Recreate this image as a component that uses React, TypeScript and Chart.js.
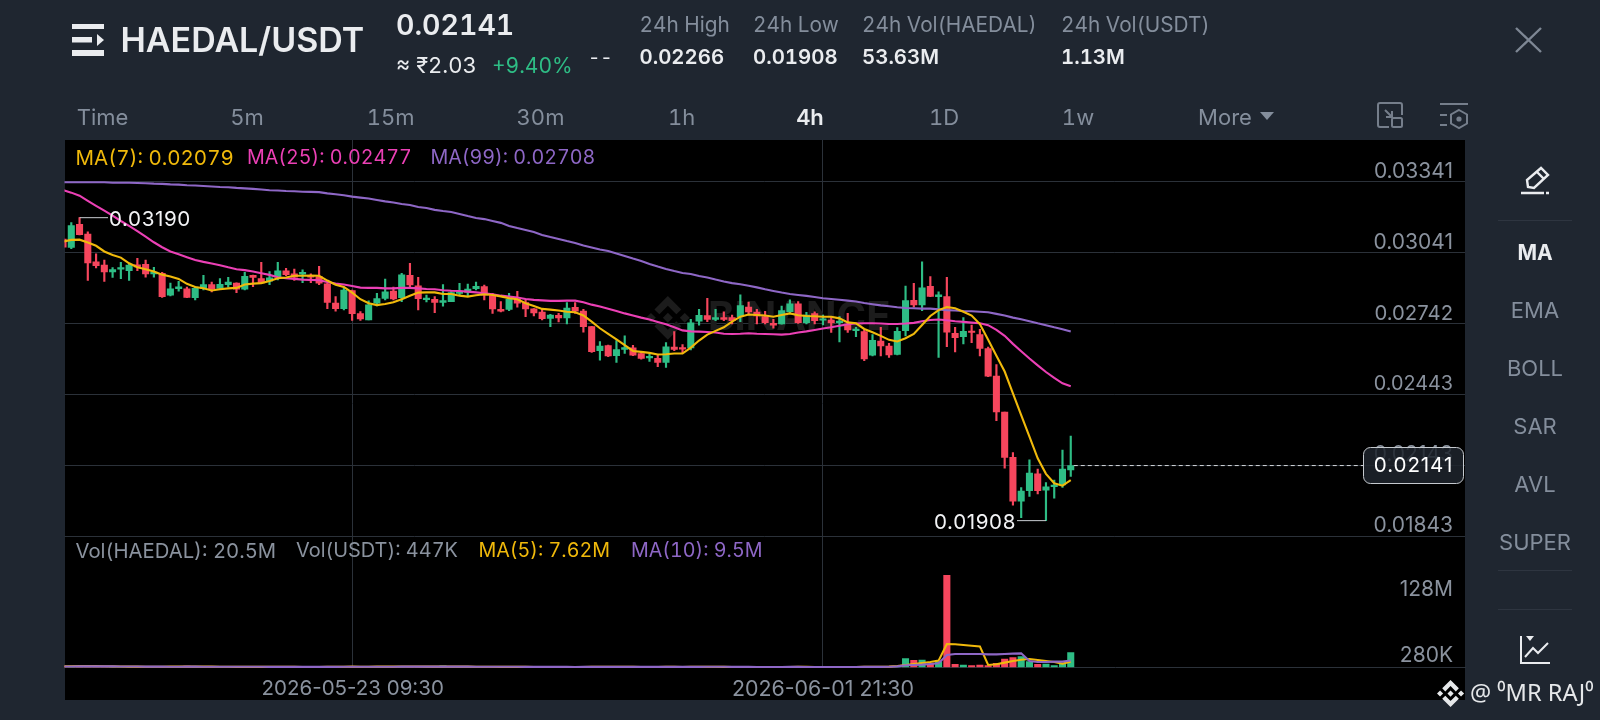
import React, { useEffect, useRef } from "react";
import { Chart, registerables } from "chart.js";

Chart.register(...registerables);

const opens = [
  0.03099,0.03064,0.03162,0.03121,0.03003,0.02989,0.0296,0.02972,0.02966,0.0299,
  0.02993,0.02952,0.02955,0.02862,0.0289,0.02889,0.02851,0.02891,0.02907,0.02891,
  0.02906,0.02913,0.02887,0.02946,0.02932,0.02921,0.02938,0.02965,0.02952,0.02951,
  0.02944,0.02941,0.0291,0.02829,0.02805,0.02882,0.02784,0.02757,0.02828,0.02848,
  0.02879,0.02852,0.02946,0.02902,0.02843,0.02845,0.02831,0.02835,0.0287,0.02874,
  0.0289,0.02898,0.0286,0.02802,0.02802,0.02846,0.02831,0.02804,0.02791,0.02764,
  0.02777,0.02766,0.02811,0.02795,0.02729,0.02627,0.02649,0.02606,0.02633,0.02639,
  0.02615,0.02597,0.02595,0.02577,0.02642,0.0264,0.02639,0.02752,0.02776,0.0276,
  0.02767,0.02767,0.02771,0.02812,0.02791,0.02771,0.02743,0.0274,0.02792,0.02825,
  0.02746,0.02784,0.02756,0.02757,0.02746,0.0274,0.02712,0.02708,0.02608,0.02668,
  0.02647,0.02611,0.02712,0.0284,0.02821,0.029,0.02856,0.02856,0.02701,0.02687,
  0.02709,0.02695,0.02636,0.0252,0.02367,0.02176,0.0199,0.02035,0.02106,0.02037,
  0.02052,0.02059,0.02123,
];
const highs = [
  0.03103,0.03169,0.0319,0.0313,0.03037,0.03011,0.02979,0.03001,0.02997,0.03018,
  0.03011,0.0298,0.02959,0.02913,0.02921,0.02896,0.02898,0.02946,0.02917,0.02932,
  0.02938,0.02914,0.02959,0.02947,0.03001,0.02962,0.03001,0.02976,0.02972,0.02969,
  0.02952,0.02984,0.02913,0.02856,0.02896,0.02884,0.02793,0.02838,0.0287,0.0293,
  0.02896,0.02955,0.02997,0.02938,0.02862,0.02856,0.02907,0.02877,0.02912,0.02909,
  0.02918,0.02905,0.0287,0.02835,0.0287,0.02878,0.02842,0.02805,0.02802,0.02781,
  0.02785,0.02831,0.02831,0.02802,0.0273,0.02666,0.02651,0.0267,0.0269,0.0265,
  0.02622,0.02613,0.02608,0.02661,0.02708,0.02653,0.0276,0.02802,0.02849,0.02802,
  0.02792,0.02778,0.02863,0.02833,0.02802,0.02794,0.0276,0.02816,0.02842,0.02835,
  0.0279,0.02792,0.02778,0.02771,0.02771,0.02785,0.02726,0.02715,0.02695,0.02726,
  0.02658,0.02725,0.02901,0.02912,0.03003,0.02941,0.02876,0.02938,0.02726,0.02767,
  0.02736,0.02718,0.02642,0.02568,0.02367,0.02196,0.02048,0.02165,0.02126,0.02069,
  0.0208,0.02207,0.02266,
];
const lows = [
  0.03061,0.03059,0.03117,0.02924,0.02977,0.0292,0.02937,0.02932,0.02924,0.02966,
  0.02938,0.02938,0.02853,0.02859,0.02879,0.02851,0.02842,0.02884,0.02876,0.02887,
  0.02896,0.02873,0.02884,0.02898,0.02913,0.02906,0.02927,0.02945,0.02924,0.02915,
  0.02915,0.02907,0.02805,0.02794,0.028,0.02755,0.02755,0.02757,0.02817,0.02842,
  0.02842,0.02835,0.02898,0.028,0.02833,0.02788,0.02816,0.02835,0.02863,0.02856,
  0.02884,0.02842,0.02785,0.02791,0.02797,0.02811,0.02771,0.02774,0.02757,0.02729,
  0.02749,0.0274,0.02785,0.02706,0.0262,0.02587,0.02602,0.02577,0.02616,0.02606,
  0.02591,0.02582,0.0256,0.02556,0.02627,0.02619,0.0263,0.02735,0.0275,0.02754,
  0.02754,0.0274,0.0275,0.02778,0.0274,0.0274,0.02722,0.02739,0.02785,0.02743,
  0.0274,0.0274,0.02736,0.02704,0.02664,0.02704,0.02687,0.02585,0.02605,0.02605,
  0.02599,0.02609,0.0269,0.02811,0.02797,0.02856,0.02599,0.02644,0.02622,0.02656,
  0.02661,0.02605,0.02517,0.02331,0.0213,0.01973,0.01921,0.0201,0.02021,0.01908,
  0.02003,0.02049,0.02095,
];
const closes = [
  0.03065,0.03157,0.03118,0.02999,0.02987,0.0296,0.0297,0.02977,0.02989,0.02982,
  0.02952,0.0296,0.02856,0.02889,0.02897,0.02853,0.02891,0.02907,0.02887,0.02908,
  0.02918,0.02887,0.02942,0.02937,0.02914,0.02935,0.02965,0.02949,0.02938,0.02959,
  0.02938,0.02913,0.02831,0.02805,0.02884,0.02784,0.02762,0.02821,0.02848,0.02876,
  0.02846,0.02948,0.02905,0.02847,0.0285,0.02831,0.02839,0.02873,0.02876,0.02888,
  0.029,0.02862,0.02804,0.02794,0.02845,0.02828,0.02804,0.02787,0.02763,0.02778,
  0.02766,0.02807,0.02794,0.02729,0.02623,0.02647,0.02605,0.02632,0.0264,0.02608,
  0.02594,0.02602,0.02578,0.02643,0.02633,0.02634,0.02745,0.02777,0.0276,0.02767,
  0.0276,0.02754,0.02818,0.02791,0.02774,0.02746,0.02735,0.02797,0.02825,0.02746,
  0.02778,0.02754,0.02761,0.02745,0.02752,0.02715,0.02718,0.02592,0.02671,0.02647,
  0.02609,0.02709,0.02839,0.02821,0.02893,0.02857,0.02863,0.02705,0.02682,0.02709,
  0.02704,0.02637,0.02519,0.02368,0.02176,0.0199,0.02033,0.02109,0.02035,0.02051,
  0.02058,0.02126,0.02141,
];
const ma7 = [
  0.03089,0.03096,0.03097,0.03085,0.03071,0.03047,0.03032,0.03021,0.02997,0.0298,
  0.02972,0.02962,0.02949,0.02941,0.02931,0.0291,0.02897,0.02891,0.02882,0.02887,
  0.02891,0.02893,0.02907,0.02911,0.02913,0.02922,0.02934,0.02937,0.02944,0.02944,
  0.02945,0.02944,0.02924,0.02906,0.02897,0.02873,0.02845,0.02828,0.0282,0.02825,
  0.02832,0.02845,0.0286,0.02873,0.02874,0.02874,0.02867,0.02867,0.0286,0.02856,
  0.02862,0.02866,0.02863,0.02857,0.02849,0.02845,0.02828,0.02816,0.02804,0.02801,
  0.02797,0.02792,0.0279,0.02776,0.0275,0.02722,0.02698,0.02675,0.02651,0.02626,
  0.02622,0.02618,0.02611,0.02612,0.02615,0.02615,0.0264,0.0267,0.02695,0.02711,
  0.02726,0.0275,0.02771,0.0278,0.02778,0.02776,0.02771,0.02778,0.02785,0.02777,
  0.02774,0.02773,0.02771,0.02771,0.02764,0.02747,0.02743,0.02719,0.02705,0.0269,
  0.02673,0.02666,0.0268,0.02698,0.02736,0.02774,0.02799,0.02812,0.02807,0.02792,
  0.02776,0.0274,0.02673,0.02606,0.02539,0.02447,0.02355,0.02264,0.02172,0.02106,
  0.02066,0.02056,0.02079,
];
const ma25 = [
  0.03307,0.03296,0.03283,0.03261,0.0324,0.0322,0.03199,0.03176,0.03155,0.03133,
  0.0311,0.03086,0.03065,0.03047,0.03035,0.03023,0.03011,0.03003,0.02996,0.02989,
  0.0298,0.02972,0.02968,0.02962,0.02955,0.02948,0.02938,0.02934,0.02931,0.02928,
  0.02927,0.02925,0.02918,0.02911,0.02907,0.02901,0.02894,0.02893,0.02893,0.02891,
  0.02891,0.02893,0.02893,0.02891,0.02888,0.02887,0.02883,0.02881,0.0288,0.02877,
  0.02874,0.0287,0.02866,0.0286,0.02856,0.02852,0.02846,0.02842,0.0284,0.02838,
  0.02838,0.02839,0.02839,0.02832,0.02822,0.02814,0.02805,0.02795,0.02785,0.02776,
  0.02767,0.02759,0.02749,0.02739,0.02726,0.02713,0.02709,0.02708,0.02706,0.02704,
  0.02699,0.02698,0.02699,0.02701,0.02699,0.02698,0.02697,0.02695,0.02698,0.02704,
  0.02709,0.02715,0.02721,0.02726,0.02733,0.02739,0.02742,0.02743,0.02743,0.02742,
  0.0274,0.0274,0.02742,0.02745,0.02752,0.02757,0.02759,0.02756,0.02752,0.02749,
  0.02746,0.02743,0.02735,0.02715,0.0269,0.02656,0.02625,0.02594,0.02565,0.02537,
  0.02512,0.02489,0.02477,
];
const ma99 = [
  0.0334,0.0334,0.0334,0.0334,0.0334,0.0334,0.03338,0.03338,0.03338,0.03337,
  0.03336,0.03334,0.03333,0.03331,0.0333,0.03327,0.03326,0.03324,0.03322,0.0332,
  0.03319,0.03316,0.03314,0.03312,0.03309,0.03306,0.03305,0.03303,0.03302,0.033,
  0.03299,0.03298,0.03293,0.03289,0.03285,0.03279,0.03275,0.03271,0.03265,0.03259,
  0.03254,0.03248,0.03244,0.03235,0.03231,0.03223,0.03218,0.03214,0.03206,0.03197,
  0.03189,0.03184,0.03176,0.03168,0.03155,0.03146,0.03138,0.03129,0.03117,0.03108,
  0.031,0.03091,0.03083,0.03072,0.03064,0.03055,0.03049,0.03038,0.03028,0.03017,
  0.03007,0.02994,0.02983,0.02973,0.02964,0.02956,0.02952,0.02943,0.02937,0.02928,
  0.0292,0.02913,0.02908,0.02902,0.02895,0.02887,0.0288,0.02873,0.02867,0.02863,
  0.02859,0.02854,0.02849,0.02846,0.02843,0.02839,0.02835,0.02829,0.02824,0.02819,
  0.02815,0.02811,0.02808,0.02807,0.02805,0.02805,0.02802,0.02799,0.02797,0.02795,
  0.02794,0.02792,0.0279,0.02783,0.02776,0.02767,0.0276,0.02752,0.02743,0.02735,
  0.02726,0.02718,0.02708,
];
// volumes, in millions
const volumes = [
  1.8,1.6,1.5,1.9,1.2,1.1,0.9,0.8,0.7,0.8,
  0.8,0.6,1.2,0.8,0.6,1.6,0.9,0.7,0.6,0.6,
  0.5,0.6,0.8,0.6,0.7,0.5,0.7,0.5,0.6,0.4,
  0.4,0.6,1.1,0.7,0.9,1.1,0.6,0.9,1.0,1.3,
  0.9,1.2,1.0,1.0,0.5,0.6,2.2,0.7,0.6,0.7,
  0.5,0.7,0.9,0.4,0.7,0.6,0.7,0.4,0.5,0.4,
  0.4,0.7,0.5,0.9,1.2,0.6,0.6,0.7,0.5,0.6,
  0.4,0.3,0.5,1.0,0.5,0.4,1.4,0.7,0.8,0.4,
  0.4,0.4,0.8,0.5,0.4,0.5,0.3,0.7,0.6,0.8,
  0.5,0.5,0.3,0.4,0.5,0.6,0.3,1.2,0.8,0.6,
  0.6,1.4,12,9.7,10,4,8,128,4.3,3.2,
  2.3,3.2,2.3,5.5,11.5,13.4,14.8,7.9,4,4.6,
  2.3,4.6,20.5,
];
const volMa5 = [
  1.4,1.5,1.6,1.6,1.6,1.5,1.3,1.1,1.0,0.9,
  0.8,0.7,0.8,0.9,0.9,1.0,1.0,0.9,0.9,0.8,
  0.7,0.6,0.6,0.6,0.6,0.6,0.6,0.6,0.6,0.5,
  0.5,0.5,0.6,0.7,0.8,0.9,0.8,0.8,0.9,1.0,
  1.0,1.1,1.1,1.1,1.0,0.9,1.1,1.0,1.0,0.9,
  0.8,0.7,0.7,0.6,0.6,0.6,0.6,0.5,0.5,0.5,
  0.5,0.5,0.5,0.5,0.7,0.7,0.7,0.7,0.7,0.6,
  0.5,0.5,0.5,0.6,0.6,0.5,0.7,0.8,0.8,0.7,
  0.6,0.5,0.5,0.5,0.5,0.5,0.5,0.5,0.5,0.6,
  0.6,0.5,0.5,0.5,0.4,0.5,0.5,0.6,0.6,0.7,
  0.9,1.9,3.2,4.6,6,7.4,9.3,32.4,32,31,
  30,29,3.2,4.2,6.5,8.8,10.6,11.6,10.2,8.8,
  7.4,5.1,7.62,
];
const volMa10 = [
  1.2,1.2,1.3,1.3,1.3,1.3,1.3,1.2,1.2,1.1,
  1.0,0.9,0.9,0.8,0.8,0.9,0.9,0.8,0.8,0.8,
  0.8,0.8,0.8,0.7,0.7,0.6,0.6,0.6,0.6,0.6,
  0.6,0.6,0.6,0.6,0.7,0.7,0.7,0.7,0.7,0.8,
  0.8,0.9,0.9,1.0,0.9,0.9,1.0,0.9,0.9,0.9,
  0.8,0.8,0.8,0.7,0.7,0.7,0.6,0.6,0.6,0.6,
  0.6,0.6,0.5,0.6,0.6,0.6,0.6,0.6,0.6,0.6,
  0.6,0.6,0.6,0.6,0.6,0.6,0.6,0.6,0.7,0.7,
  0.7,0.6,0.6,0.6,0.5,0.5,0.5,0.5,0.6,0.6,
  0.5,0.5,0.5,0.5,0.5,0.5,0.5,0.6,0.6,0.6,
  0.7,1.3,2.8,3.2,3.7,4.6,5.6,17,18.5,18.5,
  18.5,18.5,18,18,18.5,19,19.4,8.8,7.4,7.4,
  7.9,7.9,9.5,
];

const priceTicks = [0.03341, 0.03041, 0.02742, 0.02443, 0.02143, 0.01843];
const priceTickFontSizes = [21, 21, 20.3, 19.8, 21, 21];
const volumeTopTick = [128];
const volumeBottomTick = [0.28];
const timeTickIndexes = [35.07, 92.0];
const timeTickLabels = ["2026-05-23 09:30", "2026-06-01 21:30"];
const timeTickFontSizes = [20.5, 21.4];
const lastPrice = 0.02141;
const highMark = { index: 2, price: 0.0319, label: "0.03190" };
const lowMark = { index: 119, price: 0.01908, label: "0.01908" };

const GREEN = "#2EBD85";
const RED = "#F6465D";
const YELLOW = "#F0B90B";
const PINK = "#EB40B5";
const PURPLE = "#8E67C6";
const GRID = "#2B3139";
const TICK = "#8A929E";
const FONT = "Inter, 'Noto Sans', sans-serif";
const LOGO =
  "M38.73 53.2l24.59-24.58 24.6 24.6 14.3-14.31L63.32 0 24.43 38.88zM0 63.31l14.3-14.31 14.31 14.31-14.31 14.3zM38.73 73.41l24.59 24.59 24.6-24.6 14.31 14.29-38.9 38.91-38.91-38.88v-.03zM98 63.31l14.3-14.31 14.31 14.3-14.31 14.32zM77.83 63.3L63.32 48.78 52.59 59.51l-1.24 1.23-2.54 2.54 14.51 14.5 14.51-14.47z";

const overlay = {
  id: "overlay",
  beforeDatasetsDraw(chart: any) {
    const { ctx } = chart;
    ctx.save();
    ctx.fillStyle = "#1C1C1C";
    ctx.translate(646, 296);
    ctx.scale(0.345, 0.345);
    ctx.fill(new Path2D(LOGO));
    ctx.restore();
    ctx.save();
    ctx.fillStyle = "#1C1C1C";
    ctx.font = `700 40px ${FONT}`;
    ctx.textBaseline = "middle";
    ctx.fillText("BINANCE", 708, 318);
    ctx.restore();
  },
  afterDraw(chart: any) {
    const { ctx, scales } = chart;
    const x = scales.x;
    const y = scales.y;
    ctx.save();
    ctx.font = `400 20.6px ${FONT}`;
    ctx.letterSpacing = "0.6px";
    ctx.textBaseline = "middle";
    ctx.fillStyle = "#F2F3F5";
    ctx.strokeStyle = "#C9CDD2";
    ctx.lineWidth = 1;
    const hy = y.getPixelForValue(highMark.price);
    ctx.beginPath();
    ctx.moveTo(x.getPixelForValue(highMark.index), hy);
    ctx.lineTo(108, hy);
    ctx.stroke();
    ctx.textAlign = "left";
    ctx.fillText(highMark.label, 109, hy + 2);
    const ly = y.getPixelForValue(lowMark.price);
    ctx.beginPath();
    ctx.moveTo(x.getPixelForValue(lowMark.index), ly);
    ctx.lineTo(1017, ly);
    ctx.stroke();
    ctx.textAlign = "right";
    ctx.fillText(lowMark.label, 1016, ly + 2);

    const py = y.getPixelForValue(lastPrice);
    ctx.setLineDash([4, 3]);
    ctx.strokeStyle = "#D5D8DC";
    ctx.beginPath();
    ctx.moveTo(x.getPixelForValue(closes.length - 1) + 3, py);
    ctx.lineTo(1363, py);
    ctx.stroke();
    ctx.setLineDash([]);
    ctx.beginPath();
    ctx.roundRect(1363.5, 447.5, 100, 36, 7);
    ctx.fillStyle = "rgba(30,36,44,0.86)";
    ctx.fill();
    ctx.strokeStyle = "#C5C9CE";
    ctx.stroke();
    ctx.fillStyle = "#FFFFFF";
    ctx.textAlign = "center";
    ctx.letterSpacing = "0.9px";
    ctx.fillText(lastPrice.toFixed(5), 1413.5, 466);
    ctx.restore();
  },
};

function T({ x, y, c, s, w, a, children, f }: any) {
  const tx = a === "c" ? "-50%" : a === "r" ? "-100%" : "0";
  return (
    <span
      style={{
        position: "absolute",
        left: x,
        top: y,
        transform: `translate(${tx}, -50%)`,
        color: c,
        fontSize: s,
        fontWeight: w || 400,
        fontFamily: f || FONT,
        fontVariantNumeric: "tabular-nums",
        whiteSpace: "pre",
        lineHeight: 1,
      }}
    >
      {children}
    </span>
  );
}

const GRAY = "#848E9C";
const WHITE = "#EAECEF";
const navItems: [string, number][] = [["Time", 102.5], ["5m", 247], ["15m", 390.6], ["30m", 540.5], ["1h", 681.6], ["1D", 944], ["1w", 1078]];
const sideItems: [string, number][] = [["EMA", 310], ["BOLL", 368], ["SAR", 426], ["AVL", 484], ["SUPER", 542]];

export default function App() {
  const ref = useRef<HTMLCanvasElement>(null);
  useEffect(() => {
    const idx = closes.map((_, i) => i);
    const colors = closes.map((c, i) => (c >= opens[i] ? GREEN : RED));
    const line = (data: number[], color: string, yAxisID: string, order: number) => ({
      type: "line",
      data: data.map((v, i) => ({ x: i, y: v })),
      borderColor: color,
      borderWidth: 2.1,
      pointRadius: 0,
      tension: 0,
      yAxisID,
      order,
      clip: yAxisID === "yVol" ? { left: 0, top: 0, right: 0, bottom: 3 } : 0,
    });
    const chart = new Chart(ref.current!, {
      type: "bar",
      data: {
        datasets: [
          line(ma99, PURPLE, "y", 1),
          line(ma25, PINK, "y", 1),
          line(ma7, YELLOW, "y", 0),
          line(volMa10, PURPLE, "yVol", 1),
          line(volMa5, YELLOW, "yVol", 2),
          {
            data: idx.map((i) => ({ x: i, y: [lows[i], highs[i]] })),
            backgroundColor: colors,
            barThickness: 1.5,
            grouped: false,
            yAxisID: "y",
            order: 5,
          },
          {
            data: idx.map((i) => ({ x: i, y: [opens[i], closes[i]] })),
            backgroundColor: colors,
            barThickness: 6.4,
            grouped: false,
            minBarLength: 1.5,
            yAxisID: "y",
            order: 4,
          },
          {
            data: idx.map((i) => ({ x: i, y: volumes[i] })),
            backgroundColor: colors,
            barThickness: 6.4,
            grouped: false,
            yAxisID: "yVol",
            order: 6,
          },
        ] as any,
      },
      options: {
        animation: false,
        responsive: false,
        devicePixelRatio: 1,
        parsing: { xAxisKey: "x", yAxisKey: "y" } as any,
        layout: { padding: { left: 64.5, right: 135, top: 140, bottom: 0 } },
        plugins: { legend: { display: false }, tooltip: { enabled: false } },
        scales: {
          x: {
            type: "linear",
            offset: false,
            min: 0.178,
            max: 169.73,
            afterFit: (s: any) => { s.height = 52.7; },
            afterBuildTicks: (s: any) => { s.ticks = timeTickIndexes.map((value) => ({ value })); },
            grid: { color: GRID, lineWidth: 1, drawTicks: false, offset: false },
            border: { display: true, color: GRID },
            ticks: {
              autoSkip: false,
              maxRotation: 0,
              padding: 9,
              color: TICK,
              font: (c: any) => ({ family: FONT, size: timeTickFontSizes[c.index] ?? 20.5 }),
              callback: (v: any) => timeTickLabels[timeTickIndexes.indexOf(v)] ?? "",
            },
          },
          y: {
            position: "right",
            min: 0.012874,
            max: 0.035187,
            afterFit: (s: any) => { s.width = 0; },
            afterBuildTicks: (s: any) => { s.ticks = priceTicks.map((value) => ({ value })); },
            grid: { color: GRID, lineWidth: 1, drawTicks: false },
            border: { display: false },
            ticks: {
              mirror: true,
              padding: -12,
              labelOffset: -10,
              color: TICK,
              font: (c: any) => ({ family: FONT, size: priceTickFontSizes[c.index] ?? 21 }),
              callback: (v: any) => Number(v).toFixed(5),
            },
          },
          yVol: {
            position: "right",
            min: 0,
            max: 733,
            afterFit: (s: any) => { s.width = 0; },
            afterBuildTicks: (s: any) => { s.ticks = volumeTopTick.map((value) => ({ value })); },
            grid: { display: false, drawTicks: false },
            border: { display: false },
            ticks: {
              mirror: true,
              padding: -12,
              labelOffset: 14,
              color: TICK,
              font: { family: FONT, size: 21 },
              callback: (v: any) => `${v}M`,
            },
          },
          yVolLow: {
            position: "right",
            min: 0,
            max: 733,
            afterFit: (s: any) => { s.width = 0; },
            afterBuildTicks: (s: any) => { s.ticks = volumeBottomTick.map((value) => ({ value })); },
            grid: { display: false, drawTicks: false },
            border: { display: false },
            ticks: {
              mirror: true,
              padding: -12,
              labelOffset: -11,
              color: TICK,
              font: { family: FONT, size: 21 },
              callback: () => "280K",
            },
          },
        } as any,
      },
      plugins: [overlay],
    });
    return () => chart.destroy();
  }, []);

  return (
    <div style={{ position: "fixed", left: 0, top: 0, width: 1600, height: 720, background: "#1F2630", overflow: "hidden" }}>
      <div style={{ position: "absolute", left: 64.5, top: 140, width: 1400.5, height: 560, background: "#000" }} />
      <canvas ref={ref} width={1600} height={720} style={{ position: "absolute", left: 0, top: 0, width: 1600, height: 720 }} />

      <svg width={1600} height={720} style={{ position: "absolute", left: 0, top: 0, pointerEvents: "none" }}>
        <g fill="#EAECEF">
          <rect x={72} y={24} width={32} height={5} />
          <rect x={72} y={37} width={20} height={5.5} />
          <path d="M97 34 L104 40 L97 46 Z" />
          <rect x={72} y={50} width={32} height={6} />
        </g>
        <path d="M1516 28 L1541 52 M1541 28 L1516 52" stroke="#7E8794" strokeWidth={2.4} fill="none" />
        <path d="M1260 112 L1274 112 L1267 120 Z" fill={GRAY} />
        <g stroke="#757E8B" strokeWidth={2} fill="none">
          <path d="M1389 127 H1380 a2 2 0 0 1 -2 -2 V105 a2 2 0 0 1 2 -2 H1400 a2 2 0 0 1 2 2 V115" />
          <rect x={1392} y={118} width={10} height={9} rx={1.5} />
          <path d="M1385 110 L1392 117 M1392 111 V117 H1386" />
          <path d="M1440 104 H1468 M1440 115 H1447 M1440 125 H1447" />
          <path d="M1459 110 L1467 114.5 V123.5 L1459 128 L1451 123.5 V114.5 Z" />
        </g>
        <circle cx={1459} cy={119} r={2.6} fill="#757E8B" />
        <g stroke="#EAECEF" strokeWidth={2.4} fill="none">
          <path d="M1528 187 L1527 180 L1541 168 L1548 175 L1534 188 Z" />
          <path d="M1537 172 L1544 179" />
          <path d="M1521 193 H1544 M1546 193 H1549" />
          <path d="M1521 636 V663 H1550 M1525 657 L1533 648 L1538 653 L1548 643" strokeWidth={2} />
        </g>
        <path d="M1526 636 H1534 L1530 641 Z" fill="#EAECEF" />
        <g stroke="#2E3540" strokeWidth={1}>
          <path d="M1498 220.5 H1572 M1498 570.5 H1572 M1498 609.5 H1572" />
        </g>
        <path d={LOGO} transform="translate(1437 680) scale(0.214)" fill="#E6E8EA" />
      </svg>

      <T x={120.5} y={40} c={WHITE} s={34} w={600}>HAEDAL/USDT</T>
      <T x={396} y={25} c={WHITE} s={28.5} w={600}>0.02141</T>
      <T x={396} y={65} c={WHITE} s={22}>≈ ₹2.03</T>
      <T x={492} y={65} c={GREEN} s={21}>+9.40%</T>
      <T x={588} y={57} c={WHITE} s={19}>--</T>
      <T x={639.5} y={25} c={GRAY} s={20.8}>24h High</T>
      <T x={753} y={25} c={GRAY} s={20.8}>24h Low</T>
      <T x={862} y={25} c={GRAY} s={20.8}>24h Vol(HAEDAL)</T>
      <T x={1061} y={25} c={GRAY} s={20.8}>24h Vol(USDT)</T>
      <T x={639.5} y={57} c={WHITE} s={20.4} w={600}>0.02266</T>
      <T x={753} y={57} c={WHITE} s={20.4} w={600}>0.01908</T>
      <T x={862} y={57} c={WHITE} s={20.4} w={600}>53.63M</T>
      <T x={1061} y={57} c={WHITE} s={20.4} w={600}>1.13M</T>

      {navItems.map(([t, x]) => (
        <T key={t} x={x} y={117} a="c" c={GRAY} s={22}>{t}</T>
      ))}
      <T x={810} y={117} a="c" c={WHITE} s={22} w={600}>4h</T>
      <T x={1225} y={117} a="c" c={GRAY} s={22}>More</T>

      <T x={75.5} y={158} c={YELLOW} s={20.5}>MA(7): 0.02079</T>
      <T x={247} y={158} c={PINK} s={19.7}>MA(25): 0.02477</T>
      <T x={430.5} y={158} c={PURPLE} s={19.7}>MA(99): 0.02708</T>
      <T x={75.5} y={551} c={TICK} s={20.3}>Vol(HAEDAL): 20.5M</T>
      <T x={296} y={551} c={TICK} s={19.9}>Vol(USDT): 447K</T>
      <T x={478.5} y={551} c={YELLOW} s={19.7}>MA(5): 7.62M</T>
      <T x={631} y={551} c={PURPLE} s={19.7}>MA(10): 9.5M</T>

      <T x={1535} y={251.5} a="c" c={WHITE} s={21} w={700}>MA</T>
      {sideItems.map(([t, y]) => (
        <T key={t} x={1535} y={y} a="c" c={GRAY} s={22}>{t}</T>
      ))}
      <T x={1470} y={693} c="#E6E8EA" s={23.6} f="'Noto Sans', sans-serif">@ ⁰MR RAJ⁰</T>
    </div>
  );
}
